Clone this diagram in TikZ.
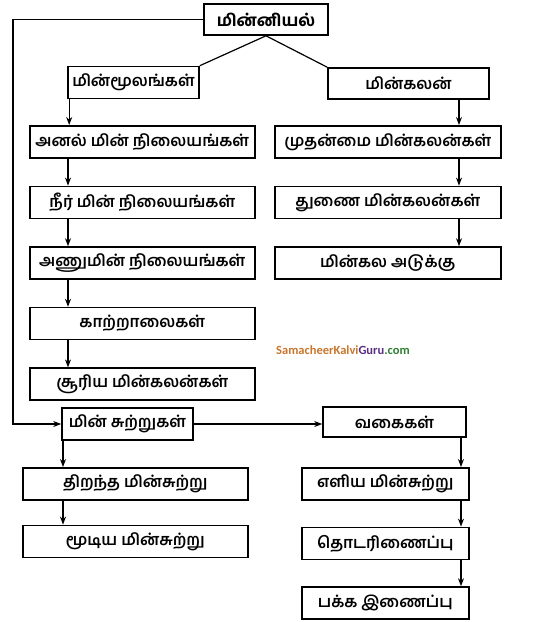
\documentclass[tikz,border=0pt]{standalone}
\usepackage{fontspec}
\newfontfamily\tamil[Script=Tamil,UprightFont=* SemiBold,BoldFont=* Bold]{Hind Madurai}
\newfontfamily\wmfont{Carlito}
\usetikzlibrary{arrows.meta,positioning}
\definecolor{wmorange}{HTML}{C8762C}
\definecolor{wmpurple}{HTML}{5A2D86}
\definecolor{wmgreen}{HTML}{2E7D32}

\begin{document}
\begin{tikzpicture}[x=1pt,y=-1pt,font=\tamil\fontsize{16}{18}\selectfont,
>={Stealth[length=8pt,width=6pt]},
box/.style={draw,line width=1.6pt,align=center,minimum height=32pt,inner sep=2pt},
wide/.style={box,minimum width=225pt},
small/.style={box,minimum width=167pt},
arr/.style={->,line width=1.2pt}]
\useasboundingbox (0,0) rectangle (544,622);
\node[box,minimum width=124pt,minimum height=31pt,font=\tamil\bfseries\fontsize{16.5}{18}\selectfont] (elec) at (266,19.5) {மின்னியல்};
\node[box,minimum width=131pt] (src) at (133.5,82.5) {மின்மூலங்கள்};
\node[box,minimum width=161pt,minimum height=31pt] (cell) at (408.5,83.5) {மின்கலன்};
% sources column
\node[wide,anchor=north west] (thermal) at (29,125) {அனல் மின் நிலையங்கள்};
\node[wide,below=27pt of thermal] (hydro) {நீர் மின் நிலையங்கள்};
\node[wide,below=27pt of hydro] (nuclear) {அணுமின் நிலையங்கள்};
\node[wide,below=27pt of nuclear] (wind) {காற்றாலைகள்};
\node[wide,below=27pt of wind] (solar) {சூரிய மின்கலன்கள்};
% cells column
\node[wide,minimum width=226pt,anchor=north west] (primary) at (274,125) {முதன்மை மின்கலன்கள்};
\node[wide,minimum width=226pt,below=27pt of primary] (secondary) {துணை மின்கலன்கள்};
\node[wide,minimum width=226pt,below=27pt of secondary] (battery) {மின்கல அடுக்கு};
% circuits
\node[box,minimum width=131pt] (circuit) at (127.5,424) {மின் சுற்றுகள்};
\node[box,minimum width=143pt,minimum height=30pt] (types) at (394.5,422) {வகைகள்};
\node[wide,anchor=north west] (open) at (22,467) {திறந்த மின்சுற்று};
\node[wide,below=24pt of open] (closed) {மூடிய மின்சுற்று};
\node[small,anchor=north west] (simple) at (301,467) {எளிய மின்சுற்று};
\node[small,below=26pt of simple] (series) {தொடரிணைப்பு};
\node[small,below=26pt of series] (parallel) {பக்க இணைப்பு};
\node[font=\wmfont\bfseries\fontsize{12.5}{14}\selectfont,inner sep=0pt] (wm) at (343,350)
  {\textcolor{wmorange}{SamacheerKalvi}\textcolor{wmpurple}{Guru}\textcolor{wmgreen}{.com}};
% arrow columns
\coordinate (bend) at (13,0);
\coordinate (lx) at (68,0);
\coordinate (rx) at (459,0);
\coordinate (clx) at (63,0);
\coordinate (crx) at (461,0);
\draw[line width=1.2pt] (elec.south) -- (src.north east);
\draw[line width=1.2pt] (elec.south) -- (cell.north west);
\draw[arr] (elec.west) -- (elec.west -| bend) |- (circuit.west);
\draw[arr] ([xshift=2pt]src.south west) -- ([xshift=2pt]src.south west |- thermal.north);
\draw[arr] (cell.south -| rx) -- (primary.north -| rx);
\foreach \a/\b in {thermal/hydro,hydro/nuclear,nuclear/wind,wind/solar}
  \draw[arr] (\a.south -| lx) -- (\b.north -| lx);
\foreach \a/\b in {primary/secondary,secondary/battery}
  \draw[arr] (\a.south -| rx) -- (\b.north -| rx);
\draw[arr] (circuit.east) -- (circuit.east -| types.west);
\draw[arr] (circuit.south -| clx) -- (open.north -| clx);
\draw[arr] (open.south -| clx) -- (closed.north -| clx);
\foreach \a/\b in {types/simple,simple/series,series/parallel}
  \draw[arr] (\a.south -| crx) -- (\b.north -| crx);
\end{tikzpicture}
\end{document}
